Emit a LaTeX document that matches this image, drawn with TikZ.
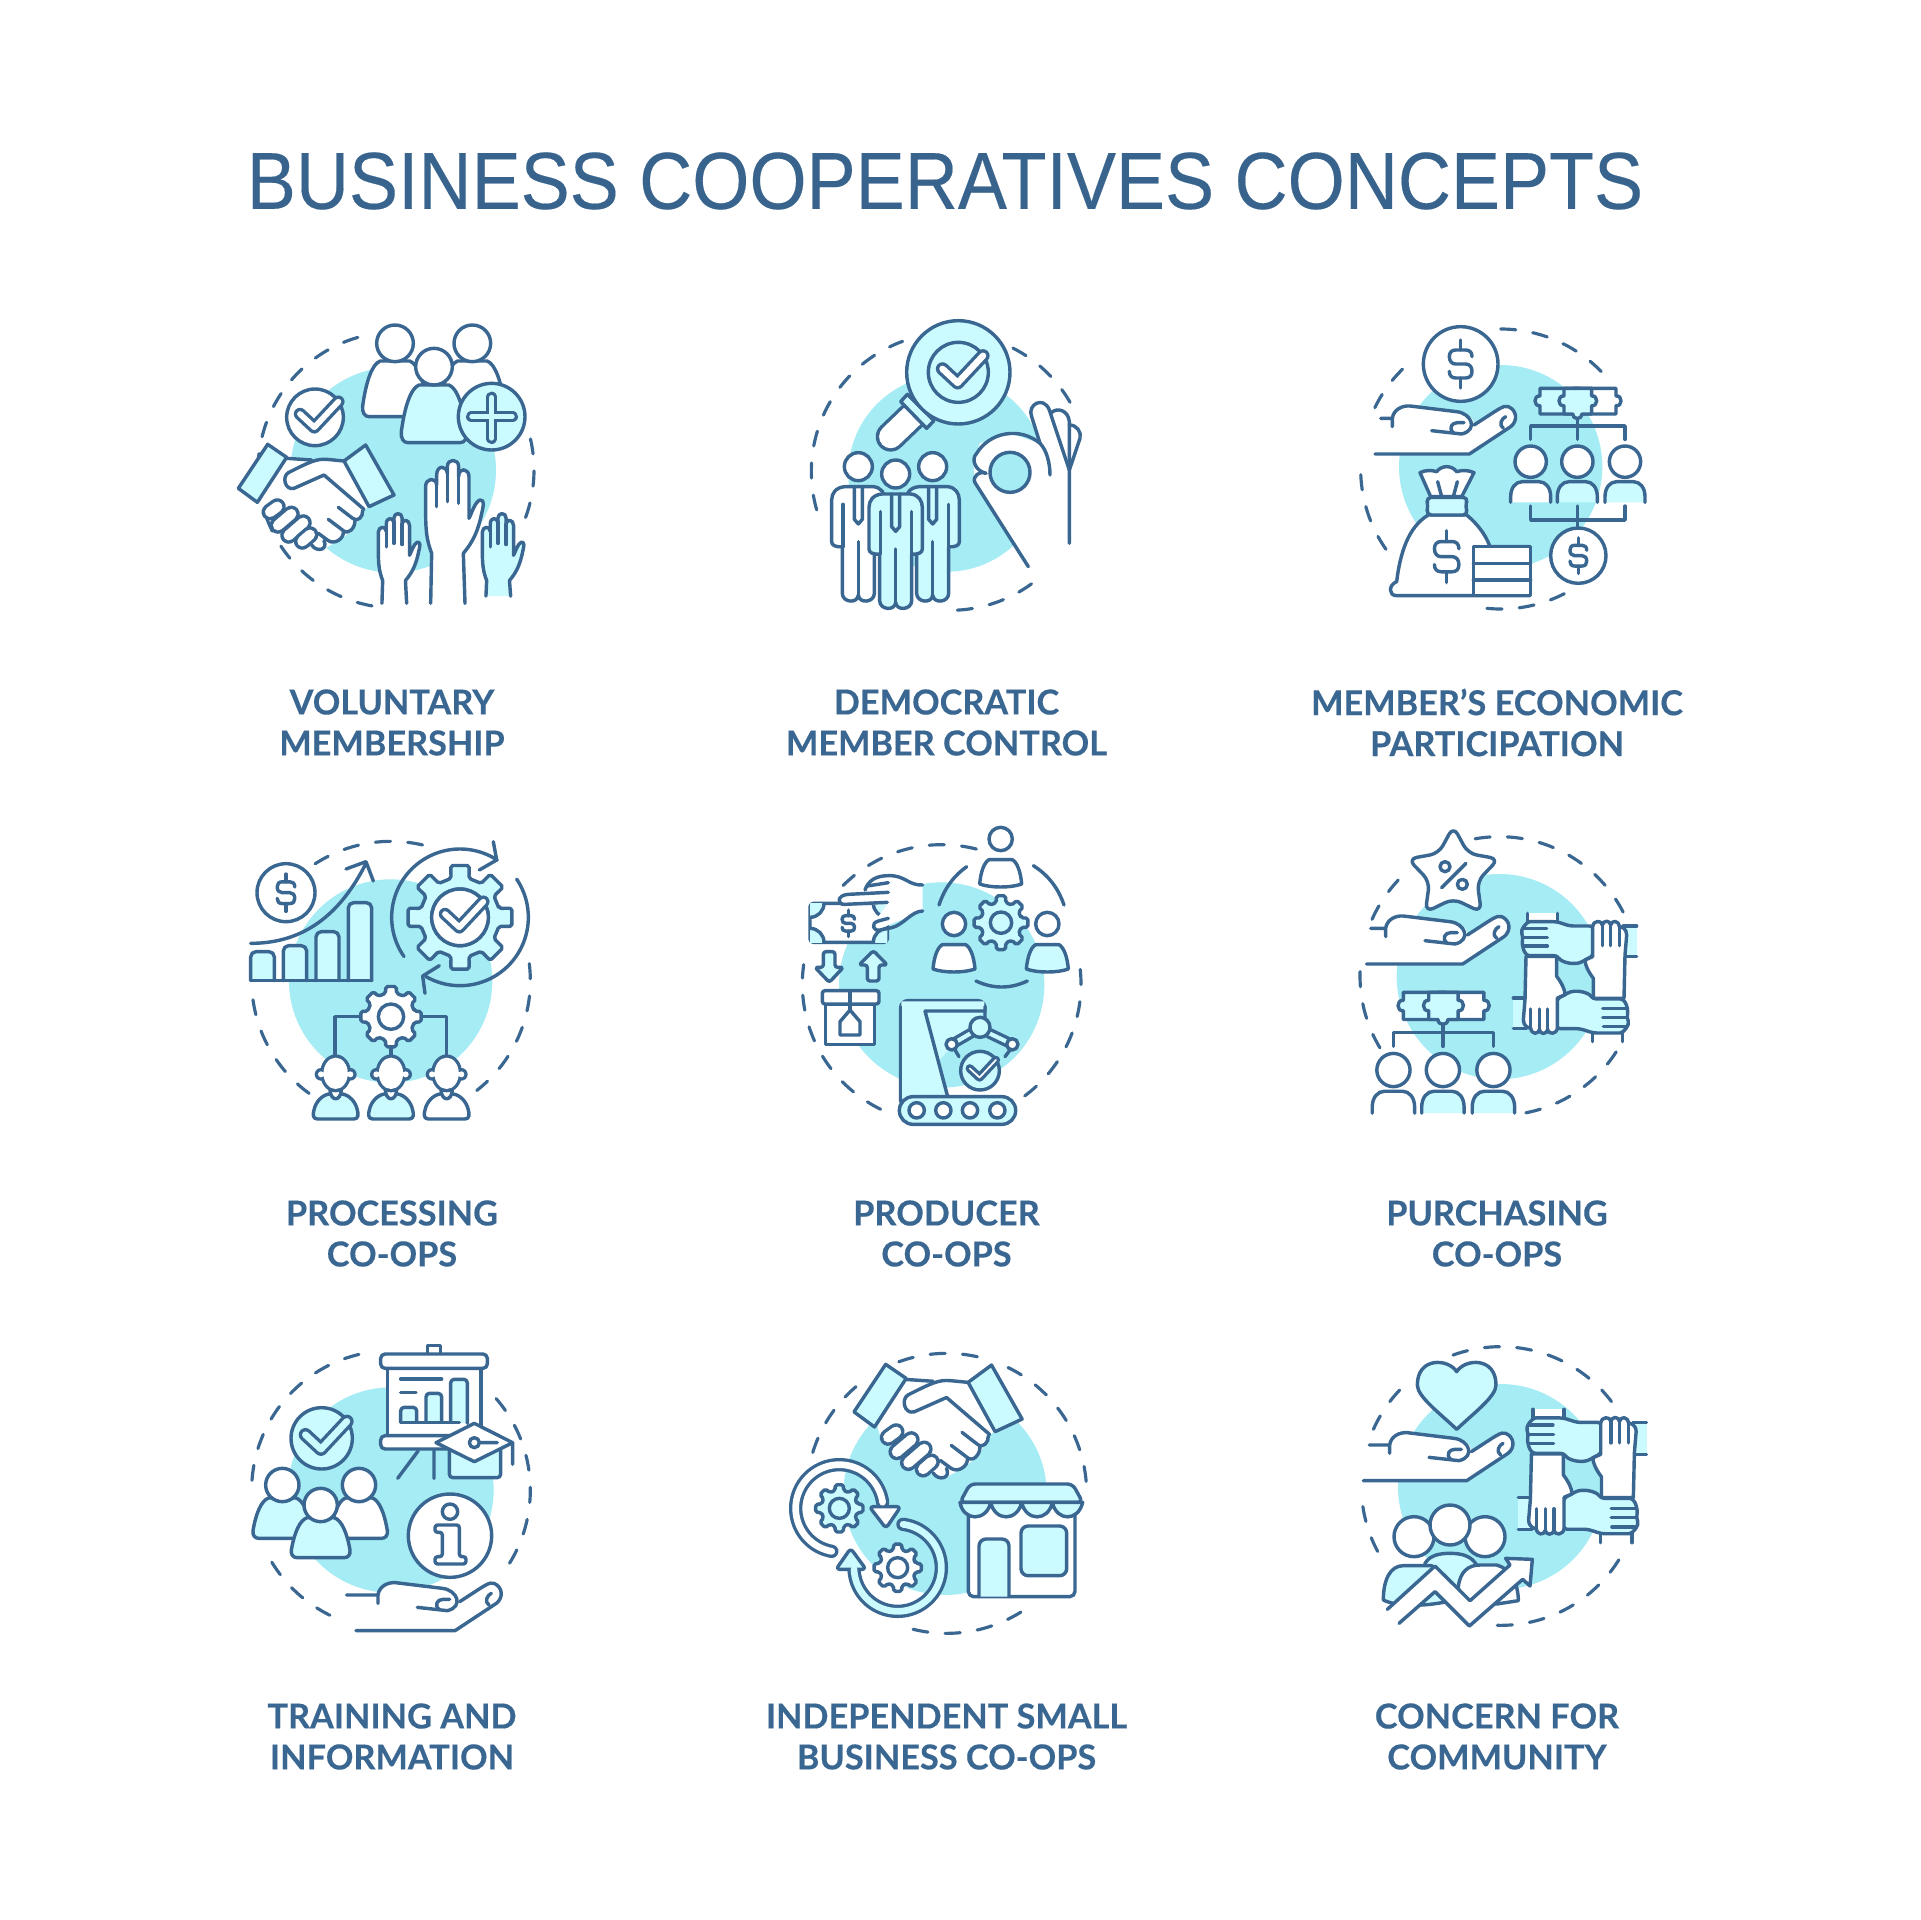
\documentclass[tikz,border=0pt]{standalone}
\usepackage{fontspec}
\setmainfont{Liberation Sans}
\newfontfamily\ttlfont[FakeBold=0.2]{Liberation Sans}
\newfontfamily\labfont[BoldFeatures={FakeBold=0.35}]{Lato}
\definecolor{ink}{HTML}{3A6791}
\definecolor{ttlink}{HTML}{37638D}
\definecolor{disc}{HTML}{A5ECF4}
\definecolor{lite}{HTML}{CCFBFF}
\tikzset{ln/.style={draw=ink,line width=1.95pt,line cap=round,line join=round},
 dsh/.style={draw=ink,line width=1.8pt,line cap=round,dash pattern=on 8.6pt off 9.8pt},
 lab/.style={text=ink,align=center,font=\labfont\bfseries\fontsize{19.5}{23.3}\selectfont},
 ttl/.style={text=ttlink,font=\ttlfont\fontsize{46}{50}\selectfont}}
\newcommand\ArcP[5]{plot[domain=#4:#5,samples=90] ({#1+#3*cos(\x)},{#2+#3*sin(\x)})}
\newcommand\Arc[5]{\draw[dsh] \ArcP{#1}{#2}{#3}{#4}{#5};}
\newcommand\Disc[3]{\fill[disc] (#1,#2) circle[radius=#3];}
\newcommand\Fat[3]{\draw[ink,line width=#2*0.5669pt,line cap=round,line join=round] #3;
 \draw[#1,line width=(#2-6.8)*0.5669pt,line cap=round,line join=round] #3;}
\newcommand\Chk[5]{\draw[ln,fill=#4] (#1,#2) circle[radius=#3];
 \begin{scope}[shift={(#1,#2)},scale=#3/85]
 \Fat{#5}{(12.5*#3/85)}{(-45,-10)--(-2,30)--(70,-47)}
 \end{scope}}
\newcommand\Gear[6]{\begin{scope}[shift={(#1,#2)}]
 \draw[ln,fill=#6,rounded corners=1.1pt] (-13:#4) \foreach \a in {0,45,...,315}{ -- ({\a-13}:#4) -- ({\a-10}:#3) -- ({\a+10}:#3) -- ({\a+13}:#4) } -- cycle;
 \draw[ln,fill=#6] (0,0) circle[radius=#5];
 \end{scope}}
\newcommand\Dollar[3]{\begin{scope}[shift={(#1,#2)},scale=#3]
 \draw[ln] (34,-22) .. controls (34,-36) and (26,-42) .. (15,-42) -- (-15,-42) .. controls (-28,-42) and (-34,-34) .. (-34,-22) .. controls (-34,-8) and (-26,0) .. (-15,0) -- (15,0) .. controls (26,0) and (34,8) .. (34,22) .. controls (34,34) and (28,42) .. (15,42) -- (-15,42) .. controls (-28,42) and (-34,34) .. (-34,22);
 \draw[ln] (0,-72)--(0,-42) (0,42)--(0,72);
 \end{scope}}
\newcommand\Coin[4]{\draw[ln,fill=#4] (#1,#2) circle[radius=#3]; \Dollar{#1}{#2}{#3/112}}
\newcommand\OpenHand[4]{\begin{scope}[shift={(#1,#2)}]
 \fill[white] (#3,462)--(388,462)--(512,380) .. controls (535,362) and (530,330) .. (505,320) .. controls (490,315) and (480,325) .. (402,370) .. controls (395,345) and (375,337) .. (350,335) -- (210,318) .. controls (185,316) and (160,330) .. (157,355) -- (#4,355) -- cycle;
 \draw[ln] (#3,462)--(388,462)--(512,380) .. controls (535,362) and (530,330) .. (505,320) .. controls (490,315) and (480,325) .. (402,375);
 \draw[ln] (#4,355)--(157,355) (157,380)--(157,355) .. controls (160,330) and (185,316) .. (210,318) -- (350,335) .. controls (395,340) and (415,390) .. (365,402) -- (275,392);
 \draw[ln] (372,368)--(352,368) .. controls (335,368) and (325,385) .. (340,398);
 \draw[ln] (497,350) .. controls (485,355) and (475,375) .. (490,385);
 \end{scope}}
\newcommand\Shake[3]{\begin{scope}[shift={(#1,#2)},scale=#3]
 \fill[white] (200,475)--(372,483)--(447,620)--(430,630)--(400,690)--(350,725)--(315,745)--(280,740)--(240,720)--(130,640)--(120,605)--cycle;
 \draw[ln] (200,475)--(275,480);
 \draw[ln] (372,483)--(320,478) .. controls (290,476) and (270,485) .. (205,518) .. controls (185,530) and (195,572) .. (222,565) -- (312,525) -- (432,628);
 \draw[ln,fill=white] (312,722) .. controls (325,750) and (290,758) .. (275,735);
 \draw[ln,fill=white] (370,695) .. controls (372,715) and (345,735) .. (325,722) -- (295,700);
 \draw[ln] (325,658)--(370,692) (405,662) .. controls (405,685) and (385,705) .. (370,692);
 \draw[ln] (355,622)--(398,655) (428,632) .. controls (430,650) and (412,668) .. (398,655);
 \Fat{white}{17}{(150,636)--(172,620)}
 \Fat{white}{17}{(174,676)--(214,642)}
 \Fat{white}{17}{(206,706)--(250,668)}
 \Fat{white}{17}{(247,724)--(270,704)}
 \draw[ln,fill=lite] (143,433)--(200,472)--(112,607)--(55,565)--cycle;
 \draw[ln,fill=lite] (437,435)--(522,585)--(447,620)--(372,483)--cycle;
 \end{scope}}
\newcommand\Raised[5]{\begin{scope}[shift={(#1,#2)},scale=#3]
 \draw[ln,fill=#5] (632,#4) -- (635,760) .. controls (622,725) and (617,700) .. (617,640) -- (617,558) .. controls (617,535) and (648,530) .. (650,555) -- (650,525) .. controls (650,495) and (680,495) .. (682,520) -- (682,500) .. controls (682,475) and (716,475) .. (716,500) -- (716,530) .. controls (716,500) and (747,505) .. (747,530) -- (747,655) .. controls (755,640) and (765,605) .. (780,600) .. controls (795,598) and (790,620) .. (785,640) .. controls (775,690) and (760,725) .. (730,760) -- (735,#4);
 \draw[ln] (650,555)--(650,620) (682,515)--(682,605) (716,525)--(716,610);
 \end{scope}}
\newcommand\Person[7]{\begin{scope}[shift={(#1,#2)}]
 \begin{scope}[xscale=#4/98,yscale=#5/228]
 \draw[ln,fill=#6] (-45,55) -- (45,55) .. controls (70,65) and (88,120) .. (98,195) .. controls (100,215) and (92,228) .. (78,228) -- (-78,228) .. controls (-92,228) and (-100,215) .. (-98,195) .. controls (-88,120) and (-70,65) .. (-45,55) -- cycle;
 \end{scope}
 \draw[ln,fill=#7] (0,0) circle[radius=#3];
 \end{scope}}
\newcommand\Arch[3]{\begin{scope}[shift={(#1,#2)}]
 \fill[#3] (-60,122)--(-60,105) .. controls (-60,78) and (-45,60) .. (-25,60) -- (25,60) .. controls (45,60) and (60,78) .. (60,105) -- (60,122) -- cycle;
 \draw[ln] (-60,122)--(-60,105) .. controls (-60,78) and (-45,60) .. (-25,60) -- (25,60) .. controls (45,60) and (60,78) .. (60,105) -- (60,122);
 \draw[ln,fill=white] (0,0) circle[radius=47];
 \end{scope}}
\newcommand\PuzTree[3]{\begin{scope}[shift={(#1,#2)},scale=#3]
 \draw[ln,fill=white] (700,265)--(828,265)--(828,288) .. controls (848,285) and (848,320) .. (828,317) -- (828,342) -- (700,342) -- cycle;
 \draw[ln,fill=lite] (720,265)--(600,265)--(600,288) .. controls (580,285) and (580,320) .. (600,317) -- (600,342) -- (720,342);
 \draw[ln,fill=lite] (672,265)--(755,265)--(755,288) .. controls (775,285) and (775,320) .. (755,317) -- (755,342)--(726,342) .. controls (726,360) and (698,360) .. (698,342) -- (672,342) -- (672,317) .. controls (652,320) and (652,285) .. (672,288) -- cycle;
 \draw[ln] (572,418)--(572,378)--(855,378)--(855,418) (712,358)--(712,418);
 \Arch{572}{485}{white}
 \Arch{712}{485}{lite}
 \Arch{855}{485}{lite}
 \end{scope}}
\newcommand\ClaspBody{%
 \draw[ln,fill=lite,rounded corners=2pt] (760,333)--(690,333)--(650,320)--(580,320) .. controls (560,320) and (540,345) .. (550,365) .. controls (545,385) and (550,422) .. (580,422)--(652,422) .. controls (665,442) and (705,452) .. (735,435) -- (760,422)--cycle;
 \draw[ln] (552,340)--(620,340) (550,367)--(622,367) (552,393)--(622,393);
 \draw[ln,fill=white] (758,425)--(758,335) .. controls (760,315) and (785,315) .. (787,330) .. controls (790,315) and (810,315) .. (812,330) .. controls (815,315) and (836,315) .. (838,335) .. controls (845,335) and (860,340) .. (860,360) -- (855,420) -- (852,550) -- (760,550) -- (760,490) .. controls (745,470) and (735,450) .. (735,435) -- (758,425);
 \draw[ln] (787,330)--(787,392) (812,330)--(812,392) (838,335)--(838,392);
}
\newcommand\ClaspStub{%
 \fill[lite] (850,333) rectangle (890,425);
 \draw[ln] (850,333)--(890,333) (850,425)--(890,425);
}
\newcommand\ClaspAll[3]{\begin{scope}[shift={(#1,#2)},scale=#3]
 \fill[white] (560,295) rectangle (652,322);
 \draw[ln] (562,295)--(562,330) (652,295)--(652,325);
 \draw[ln] (758,650)--(758,680) (848,650)--(848,680);
 \ClaspStub
 \begin{scope}[rotate around={180:(705,487)}]\ClaspStub\end{scope}
 \ClaspBody
 \begin{scope}[rotate around={180:(705,487)}]\ClaspBody\end{scope}
 \end{scope}}
\newcommand\Suit[3]{\begin{scope}[shift={(#1,#2)}]
 \draw[ln,fill=#3] (-40,60) -- (45,60) .. controls (68,62) and (80,80) .. (80,100) -- (80,225) .. controls (80,235) and (70,242) .. (48,240) -- (48,380) .. controls (48,408) and (2,412) .. (0,385) .. controls (-2,412) and (-48,408) .. (-48,380) -- (-48,240) .. controls (-70,242) and (-80,235) .. (-80,225) -- (-80,100) .. controls (-80,80) and (-68,62) .. (-40,60) -- cycle;
 \draw[ln] (-46,113)--(-46,240) (48,113)--(48,240) (0,225)--(0,385);
 \draw[ln] (-12,60)--(-12,158)--(0,172)--(12,158)--(12,60);
 \draw[ln,fill=white] (0,0) circle[radius=42];
 \end{scope}}
\newcommand\Worker[2]{\begin{scope}[shift={(#1,775)}]
 \draw[ln,fill=#2] (-55,137) .. controls (-70,137) and (-68,120) .. (-65,110) .. controls (-60,85) and (-40,65) .. (-20,62) -- (20,62) .. controls (40,65) and (60,85) .. (65,110) .. controls (68,120) and (70,137) .. (55,137) -- cycle;
 \draw[ln,fill=white] (-17,50) .. controls (-15,85) and (15,85) .. (17,50);
 \fill[ink] (0,0) circle[x radius=46.5,y radius=57] (-44,3) circle[radius=19] (44,3) circle[radius=19];
 \fill[white] (0,0) circle[x radius=36.5,y radius=47] (-44,3) circle[radius=9] (44,3) circle[radius=9];
 \end{scope}}
\newcommand\Bust[3]{\begin{scope}[shift={(#1,#2)}]
 \draw[ln,fill=#3] (-35,62) -- (35,62) .. controls (50,70) and (60,100) .. (63,135) .. controls (30,147) and (-30,147) .. (-63,135) .. controls (-60,100) and (-50,70) .. (-35,62) -- cycle;
 \draw[ln,fill=white] (0,0) circle[radius=35];
 \end{scope}}
\begin{document}
\begin{tikzpicture}[x=0.02cm,y=-0.02cm]
\useasboundingbox[fill=white] (0,0) rectangle (1920,1920);
\node[ttl] (title) at (945,181) {\scalebox{0.91}[1]{BUSINESS COOPERATIVES CONCEPTS}};
% ---------- icon 1
\begin{scope}[shift={(220,300)},scale=0.33333]
\Disc{520}{510}{308}
\Arc{528}{510}{414}{100}{255}
\Arc{528}{510}{414}{-13}{22}
\Person{525}{130}{55}{97}{220}{white}{white}
\Person{757}{130}{55}{97}{220}{white}{white}
\Person{642}{200}{55}{98}{228}{lite}{white}
\draw[ln,fill=lite] (815,350) circle[radius=100];
\Fat{lite}{11.5}{(755,350)--(877,350) (815,292)--(815,415)}
\Chk{285}{352}{85}{white}{white}
\Shake{0}{0}{1}
\Raised{30.8}{294.4}{0.72}{855}{white}
\Raised{0}{0}{1}{910}{white}
\Raised{342.8}{294.4}{0.72}{825}{lite}
\end{scope}
% ---------- icon 2
\begin{scope}[shift={(780,300)},scale=0.33333]
\Disc{500}{520}{295}
\Arc{510}{515}{416}{54}{88}
\Arc{510}{515}{416}{164}{250}
\Arc{510}{515}{416}{297}{330}
\Fat{white}{30}{(405,340)--(332,410)}
\draw[ln,fill=lite] (382,283)--(462,362)--(440,385)--(362,305)--cycle;
\draw[ln,fill=lite] (535,217) circle[radius=155];
\Chk{535}{217}{90}{lite}{white}
\fill[white] (585,545)--(745,800)--(868,730)--(868,510)--(900,400)--(870,375)--(845,328)--(780,305)--(752,340)--(780,430)--(690,400)--(600,430)--(580,485)--cycle;
\draw[ln] (745,800)--(585,548) .. controls (575,530) and (600,510) .. (618,520);
\draw[ln] (618,520) .. controls (590,515) and (570,480) .. (590,460) .. controls (630,395) and (720,380) .. (780,430) .. controls (800,450) and (810,490) .. (810,525);
\draw[ln,fill=disc] (690,517) circle[radius=60];
\draw[ln] (780,430)--(755,350) .. controls (740,315) and (790,285) .. (808,330) -- (868,510);
\draw[ln] (812,340) .. controls (830,320) and (865,330) .. (868,365) -- (868,510);
\draw[ln] (868,375) .. controls (890,375) and (905,395) .. (900,415) -- (868,510) -- (868,730);
\Suit{235}{500}{white}
\Suit{458}{500}{lite}
\Suit{347}{522}{lite}
\end{scope}
% ---------- icon 3
\begin{scope}[shift={(1340,300)},scale=0.33333]
\Disc{482}{500}{305}
\Arc{482}{507}{420}{63}{97}
\Arc{482}{507}{420}{145}{182}
\Arc{482}{507}{420}{206}{226}
\Arc{482}{507}{420}{270}{317}
\Coin{362}{192}{112}{white}
\OpenHand{0}{0}{105}{122}
\draw[ln,fill=white] (265,645) .. controls (205,680) and (180,760) .. (170,845) .. controls (145,855) and (145,887) .. (170,887) -- (570,887) -- (570,740) -- (450,740) .. controls (435,700) and (410,670) .. (380,645) -- cycle;
\draw[ln,fill=white] (272,590)--(240,518) .. controls (255,510) and (275,510) .. (290,515) .. controls (305,495) and (335,495) .. (350,515) .. controls (365,510) and (385,510) .. (402,518) -- (365,590) -- cycle;
\draw[ln] (293,545)--(305,590) (352,545)--(340,590);
\draw[ln,fill=lite,rounded corners=3pt] (258,592)--(385,592)--(375,618)--(385,645)--(258,645)--(265,618)--cycle;
\Dollar{320}{770}{1.08}
\draw[ln,fill=white] (400,740) rectangle (572,887);
\draw[ln] (400,790)--(572,790) (400,840)--(572,840);
\PuzTree{0}{0}{1}
\draw[ln] (572,618)--(572,660)--(855,660)--(855,618) (712,618)--(712,685);
\Coin{715}{767}{83}{white}
\end{scope}
% ---------- icon 4
\begin{scope}[shift={(230,815)},scale=0.33333]
\Disc{482}{498}{305}
\Arc{483}{497}{418}{237}{284}
\Arc{483}{497}{418}{-7}{52}
\Arc{483}{497}{418}{126}{173}
\Coin{168}{233}{87}{white}
\draw[ln,fill=lite,rounded corners=3pt] (62,497)--(62,410)--(133,410)--(133,497);
\draw[ln,fill=lite,rounded corners=3pt] (160,497)--(160,392)--(230,392)--(230,497);
\draw[ln,fill=lite,rounded corners=3pt] (258,497)--(258,350)--(327,350)--(327,497);
\draw[ln,fill=lite,rounded corners=3pt] (355,497)--(355,263)--(425,263)--(425,497);
\draw[ln] (62,497)--(425,497);
\draw[ln] (62,385) .. controls (220,385) and (330,300) .. (408,145);
\draw[ln] (348,162)--(408,140)--(430,198);
\draw[ln] \ArcP{690}{307}{205}{145}{303};
\draw[ln] (790,80)--(800,135)--(748,165);
\draw[ln] \ArcP{690}{307}{205}{-34}{120};
\draw[ln] (628,452)--(578,483)--(585,535);
\Gear{690}{307}{158}{120}{85}{lite}
\Chk{690}{307}{85}{white}{white}
\draw[ln] (315,720)--(315,605)--(395,605) (575,605)--(650,605)--(650,720) (483,695)--(483,722);
\Gear{483}{605}{92}{72}{38}{white}
\Worker{317}{lite}
\Worker{483}{lite}
\Worker{650}{white}
\end{scope}
% ---------- icon 5
\begin{scope}[shift={(780,815)},scale=0.33333]
\Disc{485}{510}{308}
\Arc{485}{507}{418}{116}{188}
\Arc{485}{507}{418}{225}{285}
\Arc{485}{507}{418}{-6}{54}
\draw[ln,fill=white,rounded corners=2pt] (90,265) rectangle (322,382);
\begin{scope}
\clip (90,265) rectangle (322,382);
\draw[ln,fill=lite] (90,265) circle[radius=42];
\draw[ln,fill=lite] (322,265) circle[radius=42];
\draw[ln,fill=lite] (90,382) circle[radius=42];
\draw[ln,fill=lite] (322,382) circle[radius=42];
\end{scope}
\Dollar{205}{325}{0.55}
\fill[white] (428,210)--(340,180)--(255,225)--(175,250)--(185,268)--(322,268)--(280,325)--(290,345)--(400,300)--(428,288)--cycle;
\draw[ln] (428,210) .. controls (385,212) and (375,180) .. (325,182) .. controls (290,182) and (265,195) .. (255,225);
\draw[ln] (262,213)--(325,203) (325,232)--(205,238) .. controls (170,240) and (170,270) .. (195,268) -- (322,262);
\draw[ln] (325,310)--(295,318) .. controls (270,325) and (280,350) .. (300,345) -- (335,338) .. controls (370,330) and (395,288) .. (428,288);
\draw[ln,fill=lite,rounded corners=1.5pt] (130,410)--(165,410)--(165,457)--(190,457)--(148,502)--(105,457)--(130,457)--cycle;
\draw[ln,fill=lite,rounded corners=1.5pt] (280,407)--(322,450)--(297,450)--(297,498)--(262,498)--(262,450)--(237,450)--cycle;
\draw[ln,fill=white] (137,567) rectangle (283,688);
\draw[ln,fill=white,rounded corners=1.5pt] (127,527) rectangle (297,567);
\draw[ln] (210,527)--(210,590);
\draw[ln,fill=white] (210,585)--(240,620)--(240,660)--(180,660)--(180,620)--cycle;
\Bust{662}{72}{white}
\Bust{522}{327}{white}
\Bust{802}{327}{lite}
\draw[ln] (477,270) .. controls (495,215) and (525,180) .. (560,155);
\draw[ln] (760,152) .. controls (805,180) and (835,220) .. (852,270);
\draw[ln] (588,498) .. controls (640,522) and (690,522) .. (742,498);
\Gear{663}{323}{82}{62}{32}{lite}
\draw[ln,fill=lite,rounded corners=4pt] (362,860)--(362,557)--(615,557)--(615,588);
\fill[lite] (364,858)--(364,559)--(613,559)--(613,586)--(435,588)--(503,845)--cycle;
\draw[ln] (435,588)--(615,588) (435,588)--(503,845) (615,575)--(615,610);
\draw[ln] (362,860)--(362,575);
\Fat{lite}{11}{(572,655)--(515,688)}
\Fat{lite}{11}{(628,655)--(697,688)}
\draw[ln,fill=lite] (600,637) circle[radius=30];
\draw[ln,fill=white] (515,688) circle[radius=17] (697,688) circle[radius=17];
\draw[ln] (525,705)--(537,725) (690,705)--(675,725);
\Chk{600}{767}{58}{lite}{white}
\draw[ln,fill=lite,rounded corners=7.8pt] (358,845) rectangle (707,928);
\foreach \q in {410,490,570,652}{\draw[ln,fill=white] (\q,886) circle[radius=23];}
\end{scope}
% ---------- icon 6
\begin{scope}[shift={(1340,815)},scale=0.33333]
\Disc{478}{485}{308}
\Arc{478}{483}{418}{33}{79}
\Arc{478}{483}{418}{149}{182}
\Arc{478}{483}{418}{204}{225}
\Arc{478}{483}{418}{260}{334}
\begin{scope}[shift={(340,176)}]
\draw[ln,fill=white,rounded corners=5pt] (-90:142) -- (-54:75) -- (-18:143) -- (18:75) -- (54:143) -- (90:75) -- (126:143) -- (162:75) -- (198:143) -- (234:75) -- cycle;
\end{scope}
\draw[ln] (315,155) circle[radius=15] (367,208) circle[radius=15] (305,218)--(378,145);
\OpenHand{-20}{-15}{100}{112}
\PuzTree{-446}{251}{1.06}
\ClaspAll{0}{0}{1}
\end{scope}
% ---------- icon 7
\begin{scope}[shift={(230,1330)},scale=0.33333]
\Disc{483}{480}{308}
\Arc{483}{480}{418}{116}{149}
\Arc{483}{480}{418}{184}{257}
\Arc{483}{480}{418}{-41}{32}
\draw[ln,fill=white] (592,72)--(592,47)--(632,47)--(632,72);
\draw[ln,fill=white] (472,115) rectangle (753,320);
\draw[ln,fill=white,rounded corners=2.5pt] (452,72) rectangle (772,115);
\draw[ln] (512,147)--(635,147) (512,187)--(558,187);
\draw[ln,fill=lite,rounded corners=2pt] (512,277)--(512,232)--(560,232)--(560,277);
\draw[ln,fill=lite,rounded corners=2pt] (588,277)--(588,190)--(635,190)--(635,277);
\draw[ln,fill=lite,rounded corners=2pt] (662,277)--(662,148)--(712,148)--(712,280);
\draw[ln] (512,277)--(688,277);
\draw[ln,fill=white,rounded corners=2.5pt] (452,317) rectangle (700,357);
\draw[ln] (503,445)--(565,362) (612,362)--(612,445);
\draw[ln,fill=lite,rounded corners=2pt] (658,340)--(658,443)--(812,443)--(812,340)--cycle;
\draw[ln,fill=white] (618,338)--(733,280)--(848,338)--(733,395)--cycle;
\draw[ln] (733,338) circle[radius=15] (750,338)--(802,338) (848,340)--(848,403);
\Chk{275}{325}{92}{lite}{lite}
\Person{157}{465}{50}{88}{160}{lite}{white}
\Person{387}{465}{50}{85}{160}{white}{white}
\Person{272}{525}{50}{88}{158}{lite}{white}
\draw[ln,fill=white] (660,617) circle[radius=125];
\draw[ln] (660,545) circle[radius=23];
\draw[ln,rounded corners=1.5pt] (615,585)--(688,585)--(688,680)--(708,680)--(708,702)--(615,702)--(615,680)--(637,680)--(637,607)--(615,607)--cycle;
\OpenHand{287}{440}{91}{63}
\end{scope}
% ---------- icon 8
\begin{scope}[shift={(780,1330)},scale=0.33333]
\Disc{495}{490}{305}
\Arc{500}{490}{420}{58}{105}
\Arc{500}{490}{420}{197}{230}
\Arc{500}{490}{420}{250}{284}
\Arc{500}{490}{420}{296}{356}
\Shake{162.6}{-364.6}{1.08}
\draw[ink,line width=7.6pt,line cap=round,line join=round] \ArcP{178}{535}{131}{100}{352};
\draw[ln,fill=white,rounded corners=2pt] (362,530)--(318,595)--(268,530)--cycle;
\draw[white,line width=3.8pt,line cap=round,line join=round] \ArcP{178}{535}{131}{100}{352};
\draw[ink,line width=7.6pt,line cap=round,line join=round] \ArcP{353}{713}{131}{277}{538};
\draw[ln,fill=lite,rounded corners=2pt] (168,718)--(212,655)--(258,718)--cycle;
\draw[lite,line width=3.8pt,line cap=round,line join=round] \ArcP{353}{713}{131}{277}{538};
\Gear{178}{535}{72}{55}{30}{lite}
\Gear{353}{713}{72}{55}{30}{white}
\draw[ln,fill=white,rounded corners=3pt] (565,530)--(565,800)--(885,800)--(885,530)--cycle;
\draw[ln,fill=lite,rounded corners=3pt] (570,462)--(878,462)--(908,517)--(540,517)--cycle;
\draw[ln,fill=lite] (540,517) .. controls (550,575) and (620,575) .. (632,517) .. controls (645,575) and (712,575) .. (725,517) .. controls (738,575) and (805,575) .. (817,517) .. controls (830,575) and (895,575) .. (908,517) -- cycle;
\draw[ln,fill=lite,rounded corners=4pt] (597,800)--(597,627)--(687,627)--(687,800);
\draw[ln,fill=lite,rounded corners=4pt] (723,588) rectangle (860,737);
\end{scope}
% ---------- icon 9
\begin{scope}[shift={(1340,1330)},scale=0.33333]
\Disc{482}{470}{308}
\Arc{482}{468}{418}{32}{92}
\Arc{482}{468}{418}{152}{172}
\Arc{482}{468}{418}{204}{224}
\Arc{482}{468}{418}{250}{324}
\draw[ln,fill=lite] (350,125) .. controls (325,85) and (232,80) .. (232,165) .. controls (232,200) and (300,250) .. (350,298) .. controls (400,250) and (468,200) .. (468,165) .. controls (468,80) and (375,85) .. (350,125) -- cycle;
\OpenHand{-8}{-10}{78}{96}
\ClaspAll{-6}{-69}{1.04}
\draw[ln,fill=lite] (255,700) .. controls (270,675) and (300,670) .. (330,670) .. controls (370,670) and (395,680) .. (410,705) -- (400,800) -- (270,800) -- cycle;
\draw[ln,fill=white] (355,770) .. controls (360,725) and (385,705) .. (420,705) -- (470,705) .. controls (510,715) and (535,760) .. (535,812) -- (470,822) -- (360,815) -- cycle;
\draw[ln,fill=lite] (130,810) .. controls (130,750) and (150,707) .. (190,707) -- (275,707) -- (340,790) -- (320,815) .. controls (250,830) and (170,830) .. (130,810) -- cycle;
\draw[ln,fill=white] (222,620) circle[radius=60];
\draw[ln,fill=white] (435,620) circle[radius=60];
\draw[ln,fill=white] (330,585) circle[radius=60];
\draw[ln,fill=white] (142,838)--(285,708)--(390,812)--(510,705)--(497,685)--(577,688)--(570,768)--(548,748)--(388,888)--(285,785)--(177,880);
\end{scope}
% ---------- labels
\node[lab] (l1) at (392,722.5) {VOLUNTARY\\MEMBERSHIP};
\node[lab] (l2) at (946.5,722.5) {DEMOCRATIC\\MEMBER CONTROL};
\node[lab] (l3) at (1497,722.5) {MEMBER’S ECONOMIC\\PARTICIPATION};
\node[lab] (l4) at (392,1233.5) {PROCESSING\\CO-OPS};
\node[lab] (l5) at (946.5,1233.5) {PRODUCER\\CO-OPS};
\node[lab] (l6) at (1497,1233.5) {PURCHASING\\CO-OPS};
\node[lab] (l7) at (392,1736.5) {TRAINING AND\\INFORMATION};
\node[lab] (l8) at (946.5,1736.5) {INDEPENDENT SMALL\\BUSINESS CO-OPS};
\node[lab] (l9) at (1497,1736.5) {CONCERN FOR\\COMMUNITY};
\end{tikzpicture}
\end{document}
